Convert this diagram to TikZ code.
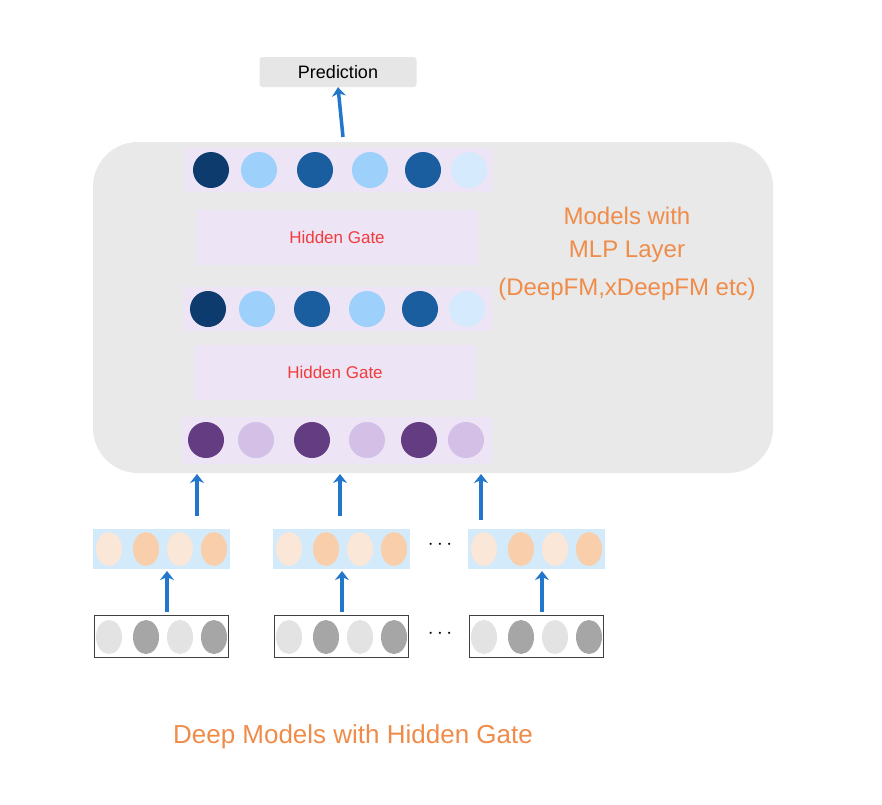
\documentclass[tikz,border=0pt]{standalone}
\usepackage{fontspec}
\setmainfont{Liberation Sans}
\usetikzlibrary{arrows.meta,shapes.geometric}
\definecolor{panel}{HTML}{E9E9E9}
\definecolor{lav}{HTML}{EDE4F5}
\definecolor{dk}{HTML}{0D3B6E}
\definecolor{md}{HTML}{1A5EA0}
\definecolor{lb}{HTML}{9DD0FB}
\definecolor{vl}{HTML}{D5EAFC}
\definecolor{pd}{HTML}{643C82}
\definecolor{pl}{HTML}{D4BFE6}
\definecolor{ol}{HTML}{FBE7D8}
\definecolor{od}{HTML}{F8CFAA}
\definecolor{sky}{HTML}{D3EAFB}
\definecolor{gl}{HTML}{E3E3E3}
\definecolor{gd}{HTML}{A6A6A6}
\definecolor{orng}{HTML}{F08C4A}
\definecolor{arr}{HTML}{2277CC}
\definecolor{gred}{HTML}{F03C3C}
\begin{document}
\begin{tikzpicture}[x=1pt,y=-1pt,
  arrow/.style={draw=arr,line width=3.5pt,-{Stealth[length=9pt,width=14pt]}},
  dot/.style={circle,minimum size=36pt,inner sep=0pt},
  egg/.style={ellipse,minimum width=26pt,minimum height=34pt,inner sep=0pt},
  gate/.style={fill=lav,minimum width=281pt,minimum height=55pt,text=gred,font=\fontsize{17}{20}\selectfont},
  otxt/.style={text=orng,font=\fontsize{24}{28}\selectfont}]
\useasboundingbox (0,0) rectangle (882,804);
\fill[white] (0,0) rectangle (882,804);
\node[fill=gl!90!white,rounded corners=3pt,minimum width=157pt,minimum height=30pt,font=\fontsize{18}{20}\selectfont] (pred) at (338,72) {Prediction};
\fill[panel,rounded corners=45pt] (93,142) rectangle (773,473);
% rows
\node[fill=lav,minimum width=308pt,minimum height=44pt] (r1) at (339,170) {};
\node[fill=lav,minimum width=309pt,minimum height=44pt] (r2) at (337,309) {};
\node[fill=lav,minimum width=310pt,minimum height=47pt] (r3) at (337,440) {};
\foreach \x/\c [count=\i] in {211/dk,259/lb,315/md,370/lb,423/md,469/vl}
  \node[dot,fill=\c] (a\i) at (\x,170) {};
\foreach \x/\c [count=\i] in {208/dk,257/lb,312/md,367/lb,420/md,467/vl}
  \node[dot,fill=\c] (b\i) at (\x,309) {};
\foreach \x/\c [count=\i] in {206/pd,256/pl,312/pd,367/pl,419/pd,466/pl}
  \node[dot,fill=\c] (c\i) at (\x,440) {};
\node[gate] (g1) at (337,237) {Hidden Gate};
\node[gate] (g2) at (335,372) {Hidden Gate};
\node[otxt] (t1) at (627,216) {Models with};
\node[otxt] (t2) at (627,252) {MLP Layer};
\node[otxt] (t3) at (627,289) {(DeepFM,xDeepFM etc)};
\draw[arrow] (343,137) -- (pred.south);
% embedding rows
\foreach \cx/\n in {161/1,341/2,536/3}{
  \node[fill=sky,minimum width=137pt,minimum height=40pt] (e\n) at (\cx,549) {};
  \node[draw=black!75,line width=1pt,minimum width=134pt,minimum height=42pt] (f\n) at (\cx,636) {};
  \foreach \dx/\c/\d [count=\k] in {-52/ol/gl,-15/od/gd,19/ol/gl,53/od/gd}{
    \node[egg,fill=\c] (e\n\k) at (\cx+\dx,549) {};
    \node[egg,fill=\d] (f\n\k) at (\cx+\dx,637) {};
  }
}
\node[font=\fontsize{22}{22}\selectfont] (d1) at (440,545) {$\cdots$};
\node[font=\fontsize{22}{22}\selectfont] (d2) at (440,634) {$\cdots$};
\coordinate (u1) at (197,474); \coordinate (u2) at (340,474); \coordinate (u3) at (481,474);
\draw[arrow] (197,516) -- (u1);
\draw[arrow] (340,516) -- (u2);
\draw[arrow] (481,520) -- (u3);
\draw[arrow] (167,612) -- (167,571);
\draw[arrow] (342,612) -- (342,571);
\draw[arrow] (542,612) -- (542,571);
\node[otxt,font=\fontsize{26}{30}\selectfont] (cap) at (353,737) {Deep Models with Hidden Gate};
\end{tikzpicture}
\end{document}
